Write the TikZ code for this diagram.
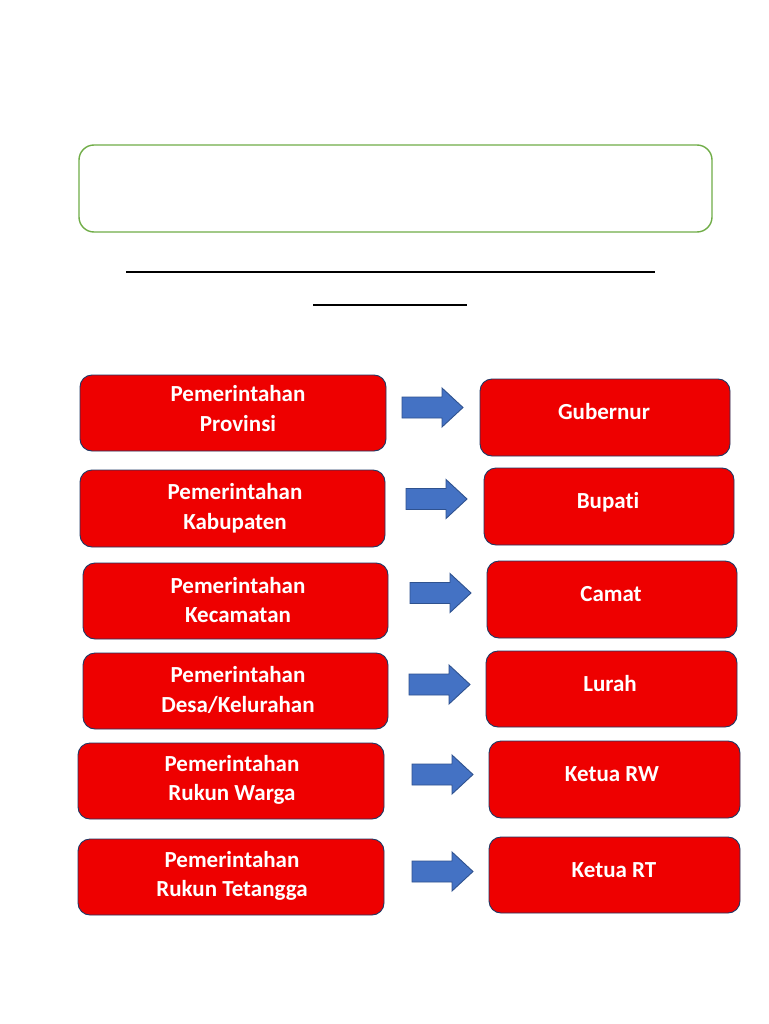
\documentclass[tikz,border=0pt]{standalone}
\usepackage{fontspec}
\setmainfont{Carlito}[Ligatures=NoCommon]
\definecolor{boxred}{HTML}{EE0000}
\definecolor{boxline}{HTML}{1F3864}
\definecolor{arrfill}{HTML}{4472C4}
\definecolor{arrline}{HTML}{2F528F}
\definecolor{framegreen}{HTML}{70AD47}
\tikzset{
  redbox/.style={draw=boxline, line width=0.9pt, fill=boxred, rounded corners=12pt},
  boxtext/.style={text=white, font=\fontsize{23}{29.5}\selectfont\bfseries, align=center, inner sep=0pt},
  blockarrow/.style={draw=arrline, line width=0.9pt, fill=arrfill},
}
\begin{document}
\begin{tikzpicture}[x=1pt,y=-1pt]
\useasboundingbox (0,0) rectangle (768,1024);
\fill[white] (0,0) rectangle (768,1024);

% top frame and lines
\draw[framegreen, line width=1.4pt, rounded corners=15pt] (79,145) rectangle (712,232);
\coordinate (l1a) at (126,272); \coordinate (l1b) at (655,272);
\coordinate (l2a) at (313,305); \coordinate (l2b) at (467,305);
\draw[line width=1.8pt] (l1a) -- (l1b);
\draw[line width=1.8pt] (l2a) -- (l2b);

% row 1
\draw[redbox] (80,375) rectangle (386,451);
\node[boxtext] (t1l) at (238,408.5) {Pemerintahan\\Provinsi};
\draw[redbox] (480,379) rectangle (730,456);
\node[boxtext] (t1r) at (604,412) {Gubernur};
\coordinate (a1) at (402,407.5);
% row 2
\draw[redbox] (80,470) rectangle (385,547);
\node[boxtext] (t2l) at (235,508) {Pemerintahan\\Kabupaten};
\draw[redbox] (484,468) rectangle (734,545);
\node[boxtext] (t2r) at (608,502) {Bupati};
\coordinate (a2) at (406,499);
% row 3
\draw[redbox] (83,563) rectangle (388,639);
\node[boxtext] (t3l) at (238,600) {Pemerintahan\\Kecamatan};
\draw[redbox] (487,561) rectangle (737,638);
\node[boxtext] (t3r) at (611,594) {Camat};
\coordinate (a3) at (410,593);
% row 4
\draw[redbox] (83,653) rectangle (388,729);
\node[boxtext] (t4l) at (238,690) {Pemerintahan\\Desa/Kelurahan};
\draw[redbox] (486,651) rectangle (737,727);
\node[boxtext] (t4r) at (610,684) {Lurah};
\coordinate (a4) at (409,684.5);
% row 5
\draw[redbox] (78,743) rectangle (384,819);
\node[boxtext] (t5l) at (232,780) {Pemerintahan\\Rukun Warga};
\draw[redbox] (489,741) rectangle (740,818);
\node[boxtext] (t5r) at (612,774) {Ketua RW};
\coordinate (a5) at (412,774.5);
% row 6
\draw[redbox] (78,839) rectangle (384,915);
\node[boxtext] (t6l) at (232,876) {Pemerintahan\\Rukun Tetangga};
\draw[redbox] (489,837) rectangle (740,913);
\node[boxtext] (t6r) at (614,870) {Ketua RT};
\coordinate (a6) at (412,871.5);

% block arrows
\foreach \a in {a1,a2,a3,a4,a5,a6}{
  \draw[blockarrow] (\a) ++(0,-10.5) -- ++(40,0) -- ++(0,-9) -- ++(21,19.5)
     -- ++(-21,19.5) -- ++(0,-9) -- ++(-40,0) -- cycle;
}
\end{tikzpicture}
\end{document}
